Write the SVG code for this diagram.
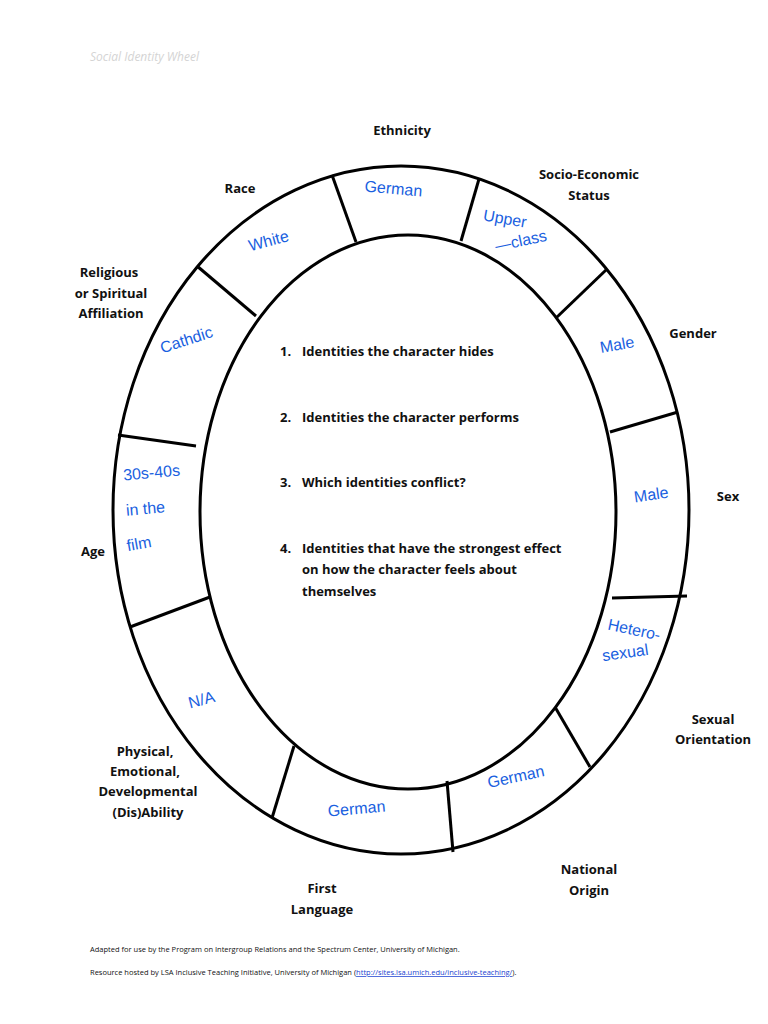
<svg xmlns="http://www.w3.org/2000/svg" width="768" height="1024" viewBox="0 0 768 1024">
<style>
.l{font-family:"Open Sans","Liberation Sans",sans-serif;font-size:13px;font-weight:bold;fill:#111;text-anchor:middle}
.q{font-family:"Open Sans","Liberation Sans",sans-serif;font-size:13px;font-weight:bold;fill:#111}
.h{font-family:"Liberation Sans",sans-serif;font-size:16px;fill:#1a5fe0;text-anchor:middle}
.f{font-family:"Open Sans","Liberation Sans",sans-serif;font-size:7.5px;fill:#111}
.s{stroke:#000;stroke-width:3;fill:none}
</style>
<rect width="768" height="1024" fill="#fff"/>
<text x="90" y="61" font-family="Open Sans,Liberation Sans,sans-serif" font-size="12" font-style="italic" fill="#d4d4d4">Social Identity Wheel</text>
<g id="wheel">
<ellipse class="s" cx="401" cy="510" rx="288" ry="344"/>
<ellipse class="s" cx="408" cy="512" rx="208" ry="277"/>
</g>
<g id="connectors" class="s">
<line x1="332" y1="175" x2="356" y2="242"/>
<line x1="479" y1="179" x2="461" y2="241"/>
<line x1="606" y1="270" x2="556" y2="318"/>
<line x1="678" y1="412" x2="610" y2="432"/>
<line x1="687" y1="596" x2="612" y2="598"/>
<line x1="555" y1="707" x2="590" y2="767"/>
<line x1="447" y1="781" x2="453" y2="852"/>
<line x1="294" y1="746" x2="272" y2="818"/>
<line x1="130" y1="627" x2="210" y2="597"/>
<line x1="118" y1="435" x2="196" y2="446"/>
<line x1="197" y1="266" x2="256" y2="316"/>
</g>
<g id="labels">
<text class="l" x="402" y="135">Ethnicity</text>
<text class="l" x="240" y="193">Race</text>
<text class="l" x="589" y="179">Socio-Economic</text>
<text class="l" x="589" y="200">Status</text>
<text class="l" x="109" y="277">Religious</text>
<text class="l" x="111" y="298">or Spiritual</text>
<text class="l" x="111" y="318">Affiliation</text>
<text class="l" x="693" y="338">Gender</text>
<text class="l" x="728" y="501">Sex</text>
<text class="l" x="93" y="556">Age</text>
<text class="l" x="713" y="724">Sexual</text>
<text class="l" x="713" y="744">Orientation</text>
<text class="l" x="145" y="756">Physical,</text>
<text class="l" x="145" y="776">Emotional,</text>
<text class="l" x="148" y="796">Developmental</text>
<text class="l" x="148" y="817">(Dis)Ability</text>
<text class="l" x="589" y="874">National</text>
<text class="l" x="589" y="895">Origin</text>
<text class="l" x="322" y="893">First</text>
<text class="l" x="322" y="914">Language</text>
</g>
<g id="questions">
<text class="q" x="280" y="356">1.</text><text class="q" x="302" y="356">Identities the character hides</text>
<text class="q" x="280" y="422">2.</text><text class="q" x="302" y="422">Identities the character performs</text>
<text class="q" x="280" y="487">3.</text><text class="q" x="302" y="487">Which identities conflict?</text>
<text class="q" x="280" y="553">4.</text><text class="q" x="302" y="553">Identities that have the  strongest effect</text>
<text class="q" x="302" y="574">on how the character feels about</text>
<text class="q" x="302" y="596">themselves</text>
</g>
<g id="handwriting">
<text class="h" x="393" y="194" transform="rotate(5 393 194)">German</text>
<text class="h" x="270" y="246" transform="rotate(-15 270 246)">White</text>
<text class="h" x="504" y="224" transform="rotate(10 504 224)">Upper</text>
<text class="h" x="522" y="246" transform="rotate(-12 522 246)">—class</text>
<text class="h" x="188" y="345" transform="rotate(-18 188 345)">Cathdic</text>
<text class="h" x="618" y="350" transform="rotate(-10 618 350)">Male</text>
<text class="h" x="152" y="478" transform="rotate(-5 152 478)">30s-40s</text>
<text class="h" x="146" y="514" transform="rotate(-5 146 514)">in the</text>
<text class="h" x="140" y="549" transform="rotate(-10 140 549)">film</text>
<text class="h" x="652" y="500" transform="rotate(-8 652 500)">Male</text>
<text class="h" x="633" y="635" transform="rotate(12 633 635)">Hetero-</text>
<text class="h" x="626" y="658" transform="rotate(-8 626 658)">sexual</text>
<text class="h" x="203" y="705" transform="rotate(-15 203 705)">N/A</text>
<text class="h" x="357" y="814" transform="rotate(-5 357 814)">German</text>
<text class="h" x="517" y="782" transform="rotate(-12 517 782)">German</text>
</g>
<g id="footer">
<text class="f" x="90" y="952">Adapted for use by the Program on Intergroup Relations and the Spectrum Center, University of Michigan.</text>
<text class="f" x="90" y="975">Resource hosted by LSA Inclusive Teaching Initiative, University of Michigan (<tspan fill="#1a3fd0" text-decoration="underline">http://sites.lsa.umich.edu/inclusive-teaching/</tspan>).</text>
</g>
</svg>
